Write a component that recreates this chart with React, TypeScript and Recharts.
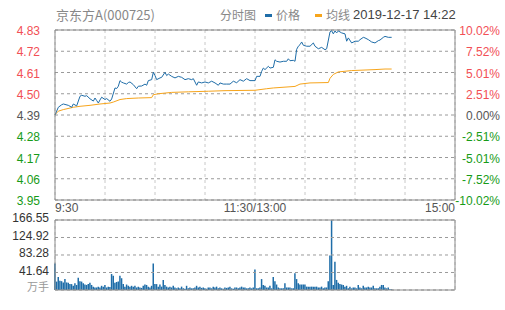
import React from 'react';
import {
  LineChart,
  Line,
  BarChart,
  Bar,
  XAxis,
  YAxis,
  CartesianGrid,
  ReferenceLine,
} from 'recharts';

// minute index from 9:30 (0) to 15:00 (240), lunch break folded at 120
const priceMinutes = [
  0, 1, 2, 4, 5, 8, 10, 11, 13, 15, 16, 18, 19, 21, 23, 24, 25, 26, 27, 28, 30, 31, 33, 34, 36, 37,
  38, 39, 40, 41, 43, 44, 45, 47, 49, 50, 52, 54, 55, 56, 58, 59, 60, 61, 63, 64, 66, 67, 68, 70,
  72, 74, 76, 78, 80, 82, 83, 85, 86, 88, 90, 92, 94, 96, 98, 99, 101, 103, 105, 107, 109, 111,
  113, 115, 117, 120, 121, 123, 124, 125, 126, 128, 129, 131, 132, 133, 135, 137, 139, 140, 141,
  143, 144, 145, 146, 147, 148, 149, 151, 153, 155, 156, 158, 160, 162, 163, 165, 166, 167, 168,
  169, 170, 172, 174, 175, 176, 178, 180, 182, 183, 185, 186, 188, 190, 192, 194, 195, 197, 198,
  200, 202,
];
const priceValues = [
  4.39, 4.41, 4.43, 4.443, 4.447, 4.44, 4.43, 4.447, 4.437, 4.487, 4.492, 4.487, 4.49, 4.474,
  4.462, 4.478, 4.465, 4.452, 4.468, 4.482, 4.47, 4.475, 4.461, 4.473, 4.53, 4.527, 4.539, 4.568,
  4.56, 4.556, 4.55, 4.558, 4.561, 4.547, 4.526, 4.539, 4.54, 4.55, 4.544, 4.568, 4.573, 4.611,
  4.594, 4.573, 4.582, 4.585, 4.611, 4.594, 4.602, 4.59, 4.582, 4.59, 4.585, 4.573, 4.578, 4.573,
  4.578, 4.544, 4.561, 4.556, 4.561, 4.556, 4.565, 4.556, 4.544, 4.556, 4.55, 4.55, 4.55, 4.565,
  4.557, 4.573, 4.565, 4.578, 4.568, 4.568, 4.59, 4.59, 4.616, 4.633, 4.625, 4.642, 4.633, 4.637,
  4.676, 4.668, 4.664, 4.668, 4.668, 4.681, 4.671, 4.673, 4.668, 4.73, 4.746, 4.754, 4.768, 4.751,
  4.746, 4.746, 4.763, 4.746, 4.733, 4.74, 4.728, 4.733, 4.82, 4.826, 4.81, 4.825, 4.815, 4.825,
  4.815, 4.81, 4.772, 4.789, 4.763, 4.772, 4.772, 4.78, 4.792, 4.789, 4.78, 4.768, 4.763, 4.775,
  4.778, 4.792, 4.797, 4.792, 4.792,
];

const avgMinutes = [
  0, 2, 5, 11, 15, 21, 27, 33, 35, 39, 43, 50, 58, 59, 62, 70, 80, 92, 102, 120, 127, 131, 144,
  147, 153, 164, 165, 167, 170, 178, 192, 198, 202,
];
const avgValues = [
  4.392, 4.41, 4.418, 4.43, 4.435, 4.44, 4.447, 4.452, 4.457, 4.47, 4.475, 4.478, 4.48, 4.495,
  4.5, 4.507, 4.51, 4.513, 4.516, 4.518, 4.526, 4.53, 4.538, 4.55, 4.556, 4.558, 4.58, 4.6, 4.613,
  4.62, 4.625, 4.628, 4.628,
];

// volume per minute (万手), minutes 0..202
const volumeValues = [
  63, 20, 31, 22, 21, 18, 26, 18, 17, 14, 14, 10, 16, 12, 29, 21, 20, 16, 13, 12,
  14, 17, 12, 8, 6, 6, 8, 6, 10, 8, 12, 6, 8, 7, 38, 34, 17, 19, 20, 34,
  28, 14, 8, 13, 10, 8, 10, 8, 10, 6, 8, 6, 5, 10, 13, 12, 8, 6, 10, 63,
  14, 14, 8, 13, 8, 24, 12, 8, 6, 8, 6, 10, 6, 4, 6, 4, 8, 4, 3, 10,
  4, 6, 4, 4, 6, 10, 6, 8, 5, 6, 4, 3, 6, 6, 4, 8, 6, 8, 4, 6,
  4, 3, 6, 5, 6, 8, 4, 3, 6, 6, 4, 6, 8, 6, 6, 4, 4, 6, 4, 6,
  49, 4, 4, 6, 26, 12, 10, 6, 6, 10, 4, 31, 21, 13, 6, 4, 4, 4, 16, 6,
  6, 6, 4, 4, 40, 26, 16, 13, 13, 13, 13, 8, 8, 8, 8, 8, 8, 8, 6, 6,
  8, 4, 6, 6, 21, 82, 166.55, 12, 67, 24, 17, 14, 13, 12, 8, 10, 4, 8, 4, 6,
  6, 4, 12, 6, 4, 10, 6, 6, 8, 6, 6, 10, 4, 4, 4, 8, 12, 12, 6, 4,
  6, 2, 2,
];

const priceTicks = [4.83, 4.72, 4.61, 4.5, 4.39, 4.28, 4.17, 4.06, 3.95];
const pctLabels = ['10.02%', '7.52%', '5.01%', '2.51%', '0.00%', '-2.51%', '-5.01%', '-7.52%', '-10.02%'];
const timeTicks = [0, 30, 60, 90, 120, 150, 180, 210, 240];
const timeLabels: Record<number, string> = { 0: '9:30', 120: '11:30/13:00', 240: '15:00' };
const volumeTicks = [0, 41.64, 83.28, 124.92, 166.55];

const FONT = "'Liberation Sans', Arial, 'Noto Sans CJK SC', sans-serif";
const CJK = "'Noto Sans CJK SC', 'Liberation Sans', sans-serif";
const BLUE = '#1f6da8';
const ORANGE = '#f7a51c';
const RED = '#f24f55';
const GREEN = '#179b17';
const GREY = '#555';
const FRAME = '#8a8a8a';
const GRID = '#c8c8c8';
const HGRID = '#9a9a9a';

const priceData = priceMinutes.map((m, i) => ({ m, price: priceValues[i] }));
const avgData = avgMinutes.map((m, i) => ({ m, avg: avgValues[i] }));
const volumeData = volumeValues.map((v, m) => ({ m, vol: v }));

const tickColor = (i: number) => (i < 4 ? RED : i === 4 ? GREY : GREEN);

const PriceTick = (props: any) => {
  const i = priceTicks.indexOf(props.payload.value);
  return (
    <text x={40} y={props.y + 1} dy="0.35em" textAnchor="end" fill={tickColor(i)} fontSize={12} fontFamily={FONT}>
      {props.payload.value.toFixed(2)}
    </text>
  );
};

const PctTick = (props: any) => {
  const i = priceTicks.indexOf(props.payload.value);
  return (
    <text x={500} y={props.y + 1} dy="0.35em" textAnchor="end" fill={tickColor(i)} fontSize={12} fontFamily={FONT}>
      {pctLabels[i]}
    </text>
  );
};

const TimeTick = (props: any) => {
  const v = props.payload.value;
  const label = timeLabels[v];
  if (!label) return null;
  const anchor = v === 0 ? 'start' : v === 240 ? 'end' : 'middle';
  return (
    <text x={props.x} y={212} textAnchor={anchor} fill={GREY} fontSize={12} fontFamily={FONT}>
      {label}
    </text>
  );
};

const VolumeTick = (props: any) => {
  const v = props.payload.value;
  if (v === 0) {
    return (
      <text x={49} y={props.y - 3} dy="0.35em" textAnchor="end" fill="#999" fontSize={11} fontFamily={CJK}>
        万手
      </text>
    );
  }
  return (
    <text x={49} y={props.y - 2} dy="0.35em" textAnchor="end" fill="#333" fontSize={12} fontFamily={FONT}>
      {v.toFixed(2)}
    </text>
  );
};

const headText = { position: 'absolute' as const, top: 7, fontSize: 12, lineHeight: '16px', color: '#888', fontFamily: CJK, whiteSpace: 'nowrap' as const };

const App: React.FC = () => {
  return (
    <div style={{ position: 'absolute', left: 0, top: 0, width: 505, height: 310, background: '#fff' }}>
      <div style={{ ...headText, left: 56, fontSize: 13 }}>京东方A(000725)</div>
      <div style={{ ...headText, left: 220 }}>分时图</div>
      <div style={{ position: 'absolute', left: 265, top: 14, width: 7, height: 3, background: BLUE }} />
      <div style={{ ...headText, left: 276 }}>价格</div>
      <div style={{ position: 'absolute', left: 315, top: 14, width: 7, height: 3, background: ORANGE }} />
      <div style={{ ...headText, left: 326 }}>均线</div>
      <div style={{ ...headText, left: 353, fontSize: 13, color: '#444', fontFamily: FONT }}>2019-12-17 14:22</div>

      <div style={{ position: 'absolute', left: 0, top: 0 }}>
        <LineChart width={505} height={215} margin={{ top: 30, right: 0, bottom: 0, left: 0 }}>
          <CartesianGrid horizontal={false} stroke={GRID} strokeDasharray="3 3" />
          {priceTicks.map((t) => (
            <ReferenceLine key={t} y={t} stroke={HGRID} strokeDasharray="3 3" />
          ))}
          <ReferenceLine y={4.83} stroke={FRAME} />
          <XAxis
            dataKey="m"
            type="number"
            domain={[0, 240]}
            ticks={timeTicks}
            interval={0}
            height={15}
            tickLine={false}
            axisLine={{ stroke: FRAME }}
            tick={<TimeTick />}
            allowDuplicatedCategory={false}
          />
          <YAxis
            domain={[3.95, 4.83]}
            ticks={priceTicks}
            interval={0}
            width={55}
            tickLine={false}
            axisLine={{ stroke: FRAME }}
            tick={<PriceTick />}
            allowDataOverflow
          />
          <YAxis
            yAxisId="pct"
            orientation="right"
            domain={[3.95, 4.83]}
            ticks={priceTicks}
            interval={0}
            width={50}
            tickLine={false}
            axisLine={{ stroke: FRAME }}
            tick={<PctTick />}
            allowDataOverflow
          />
          <Line
            data={avgData}
            dataKey="avg"
            type="linear"
            stroke={ORANGE}
            strokeWidth={1}
            dot={false}
            isAnimationActive={false}
          />
          <Line
            data={priceData}
            dataKey="price"
            type="linear"
            stroke={BLUE}
            strokeWidth={1}
            dot={false}
            isAnimationActive={false}
          />
        </LineChart>
      </div>

      <div style={{ position: 'absolute', left: 0, top: 210 }}>
        <BarChart width={505} height={84} data={volumeData} margin={{ top: 10, right: 0, bottom: 0, left: 0 }}>
          <CartesianGrid horizontal={false} stroke={GRID} strokeDasharray="3 3" />
          {volumeTicks.map((t) => (
            <ReferenceLine key={t} y={t} stroke={HGRID} strokeDasharray="3 3" />
          ))}
          <ReferenceLine y={166.55} stroke={FRAME} />
          <XAxis
            dataKey="m"
            type="number"
            domain={[0, 240]}
            ticks={timeTicks}
            interval={0}
            height={4}
            tick={false}
            tickLine={false}
            axisLine={{ stroke: FRAME }}
          />
          <YAxis
            domain={[0, 166.55]}
            ticks={volumeTicks}
            interval={0}
            width={55}
            tickLine={false}
            axisLine={{ stroke: FRAME }}
            tick={<VolumeTick />}
          />
          <YAxis yAxisId="r" orientation="right" width={50} tick={false} tickLine={false} axisLine={{ stroke: FRAME }} />
          <Bar dataKey="vol" fill={BLUE} barSize={1.5} isAnimationActive={false} />
        </BarChart>
      </div>
    </div>
  );
};

export default App;
